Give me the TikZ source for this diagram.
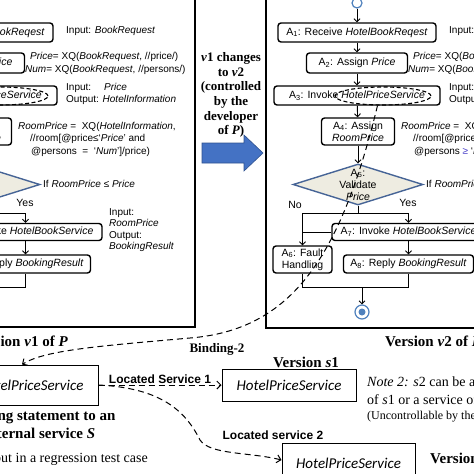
\documentclass[tikz,border=0pt]{standalone}
\usepackage{fontspec}
\setmainfont{Liberation Serif}
\setsansfont{Liberation Sans}
\newfontfamily\calfont{Carlito}
\usetikzlibrary{arrows.meta,shapes.geometric}
\definecolor{flowblue}{RGB}{79,129,189}
\definecolor{arrowblue}{RGB}{68,114,196}
\definecolor{arrowedge}{RGB}{47,82,143}
\definecolor{decfill}{RGB}{238,236,225}
\definecolor{decedge}{RGB}{70,100,150}
\definecolor{relblue}{RGB}{70,60,200}
\newcommand{\actfont}{\sffamily\fontsize{10.5}{12}\selectfont}
\newcommand{\notefont}{\sffamily\fontsize{10}{12}\selectfont}
\tikzset{
  flow/.style={line width=0.9pt},
  arrow/.style={flow, -{Straight Barb[length=3pt,width=6pt]}},
  act/.style={
    draw,
    line width=1.4pt,
    rounded corners=3pt,
    fill=white,
    align=center,
    inner sep=1pt,
    font=\actfont
  },
  decision/.style={
    diamond,
    draw=decedge,
    fill=decfill,
    line width=1.4pt,
    inner sep=0pt,
    minimum width=130pt,
    minimum height=41pt
  },
  svc/.style={ellipse, draw, dash pattern=on 4pt off 2.5pt, line width=1.1pt,
    minimum width=96pt, minimum height=18pt, inner sep=0pt},
  initnode/.style={circle, draw=flowblue, line width=1.2pt, fill=white,
    minimum size=10pt, inner sep=0pt},
  finalnode/.style={circle, draw=flowblue, line width=1.2pt, fill=white,
    minimum size=14pt, inner sep=0pt,
    path picture={\fill[flowblue] (path picture bounding box.center) circle (3.5pt);}},
  note/.style={font=\notefont, anchor=west, inner sep=0pt, align=left},
  service/.style={draw, line width=1pt, minimum width=134pt,
    font=\calfont\itshape\fontsize{15}{18}\selectfont},
  caption/.style={font=\rmfamily\bfseries\fontsize{15}{18}\selectfont, inner sep=0pt},
  bind/.style={line width=1pt, dash pattern=on 6pt off 4pt,
    -{Straight Barb[length=4pt,width=8pt]}},
  link/.style={font=\sffamily\bfseries\fontsize{12}{14}\selectfont, inner sep=0pt}
}

\begin{document}
\begin{tikzpicture}[x=1pt, y=-1pt]
\useasboundingbox (0,0) rectangle (474,474);
\clip (0,0) rectangle (474,474);

% Panels of the two versions
\draw[line width=1.2pt] (-60,-10) rectangle (195,327);
\draw[line width=1.2pt] (266,-10) rectangle (520,328);

% Flowchart, once per version
\foreach \p/\dx/\rel in {l/-383/{\ \ =\ \ }, r/0/{\ \textcolor{relblue}{≥}\ }} {
  \begin{scope}[xshift=\dx pt]
  \node[initnode] (\p s) at (357,3) {};
  \node[act, minimum width=158pt, minimum height=19pt] (\p a1) at (357,32.5)
    {A\textsubscript{1}: Receive \textit{HotelBookReqest}};
  \node[act, minimum width=101pt, minimum height=20pt] (\p a2) at (357,63)
    {A\textsubscript{2}: Assign \textit{Price}};
  \node[act, minimum width=166pt, minimum height=19pt] (\p a3) at (357,95.5)
    {A\textsubscript{3}: Invoke \textit{HotelPriceService}};
  \node[svc] (\p ell) at (383,96) {};
  \node[act, minimum width=73pt, minimum height=27pt] (\p a4) at (358,131.5)
    {A\textsubscript{4}: Assign\\\textit{RoomPrice}};
  \node[decision, label={[align=center, font=\actfont, inner sep=0pt]center:{A\textsubscript{5}:\\Validate\\\textit{Price}}}]
    (\p a5) at (358,184.5) {};
  \node[act, minimum width=59pt, minimum height=27pt] (\p a6) at (302.5,259.5)
    {A\textsubscript{6}: Fault\\Handling};
  \node[act, minimum width=153pt, minimum height=17pt] (\p a7) at (408.5,232)
    {A\textsubscript{7}: Invoke \textit{HotelBookService}};
  \node[act, minimum width=130pt, minimum height=18pt] (\p a8) at (408.5,264)
    {A\textsubscript{8}: Reply \textit{BookingResult}};
  \node[finalnode] (\p e) at (362,312) {};
  \coordinate (\p m) at (362,287);

  \draw[arrow] (\p s) -- (\p a1);
  \draw[arrow] (\p a1) -- (\p a2);
  \draw[arrow] (\p a2) -- (\p a3);
  \draw[arrow] (\p a3) -- (\p a4);
  \draw[arrow] (\p a4) -- (\p a5);
  \draw[flow] (\p a5.south) -- ++(0,8) coordinate (\p br);
  \draw[arrow] (\p br) -| (\p a6.north);
  \draw[arrow] (\p br) -| (\p a7.north);
  \draw[flow] (\p a7.west) -- (\p a6.north |- \p a7.west);
  \draw[arrow] (\p a7) -- (\p a8);
  \draw[flow] (\p a6.south) -- ++(0,14) -| (\p a8.south);
  \draw[arrow] (\p m) -- (\p e);
  \node[font=\actfont] at (295,205) {No};
  \node[font=\actfont] at (408,203) {Yes};

  % Notes beside the activities
  \node[note] at (449,31) {Input: \textit{BookRequest}};
  \node[note] at (413,57) {\textit{Price}= XQ(\textit{BookRequest}, //price/)};
  \node[note] at (408,70) {\textit{Num}= XQ(\textit{BookRequest}, //persons/)};
  \node[note] at (449,94) {Input:\hspace{1.3em}\textit{Price}\\Output: \textit{HotelInformation}};
  \node[note] at (401,127) {\textit{RoomPrice} =\ \ XQ(\textit{HotelInformation},};
  \node[note] at (413,139) {//room[@price≤`\textit{Price}' and};
  \node[note] at (414,152) {@persons\rel`\textit{Num}']/price)};
  \node[note] at (426,184) {If \textit{RoomPrice} ≤ \textit{Price}};
  \node[note, font=\sffamily\fontsize{10}{11.5}\selectfont] at (492,230)
    {Input:\\\textit{RoomPrice}\\Output:\\\textit{BookingResult}};
  \end{scope}
}

% Change between the versions
\node[font=\rmfamily\bfseries\fontsize{13}{14.7}\selectfont, align=center] (chg) at (231,95)
  {\textit{v}1 changes\\to \textit{v}2\\(controlled\\by the\\developer\\of \textit{P})};
\draw[fill=arrowblue, draw=arrowedge, line width=0.6pt]
  (202,143) -- (244,143) -- (244,135) -- (263,153) -- (244,171) -- (244,163) -- (202,163) -- cycle;

\node[caption, anchor=east] (capl) at (68,341) {Version \textit{v}1 of \textit{P}};
\node[caption, anchor=west] (capr) at (385,341) {Version \textit{v}2 of \textit{P}};

% Services
\node[service, minimum height=40pt] (hps) at (31,385) {HotelPriceService};
\node[service, minimum height=32pt] (s1) at (289,385) {HotelPriceService};
\node[service, minimum width=133pt, minimum height=40pt] (s2) at (348.5,463) {HotelPriceService};
\node[caption] (caps1) at (306,362) {Version \textit{s}1};
\node[caption, anchor=west] (caps2) at (430,458) {Version \textit{s}2};
\node[caption, align=center] (capsvc) at (39,424) {Binding statement to an\\external service \textit{S}};

\draw[bind] (hps.east) -- (s1.west)
  node[link, midway, yshift=6pt] {Located Service 1};
\draw[bind] (hps.east) .. controls (160,388) and (185,410) .. (200,440)
  .. controls (210,455) and (250,452) .. ([yshift=3pt]s2.west);
\node[link] (ls2) at (273,435) {Located service 2};

% Notes
\node[font=\rmfamily\fontsize{14}{16}\selectfont, anchor=east, inner sep=0pt] (note1) at (148,459)
  {\textit{Note 1:} A test input in a regression test case};
\node[font=\rmfamily\fontsize{14}{18}\selectfont, anchor=west, align=left, inner sep=0pt] (note2) at (367,392)
  {\textit{Note 2: s}2 can be a new version\\of \textit{s}1 or a service of another provider};
\node[font=\rmfamily\fontsize{12}{14}\selectfont, anchor=west, inner sep=0pt] (note3) at (367,417)
  {(Uncontrollable by the developer of \textit{P})};

% Binding of the invoke statement
\draw[bind] (rell.240) .. controls (340,260) and (290,330) .. (190,338)
  .. controls (100,346) and (45,350) .. ([xshift=-9pt]hps.north);
\node[font=\rmfamily\bfseries\fontsize{13}{15}\selectfont] (bl) at (217,349) {Binding-2};

\end{tikzpicture}
\end{document}
